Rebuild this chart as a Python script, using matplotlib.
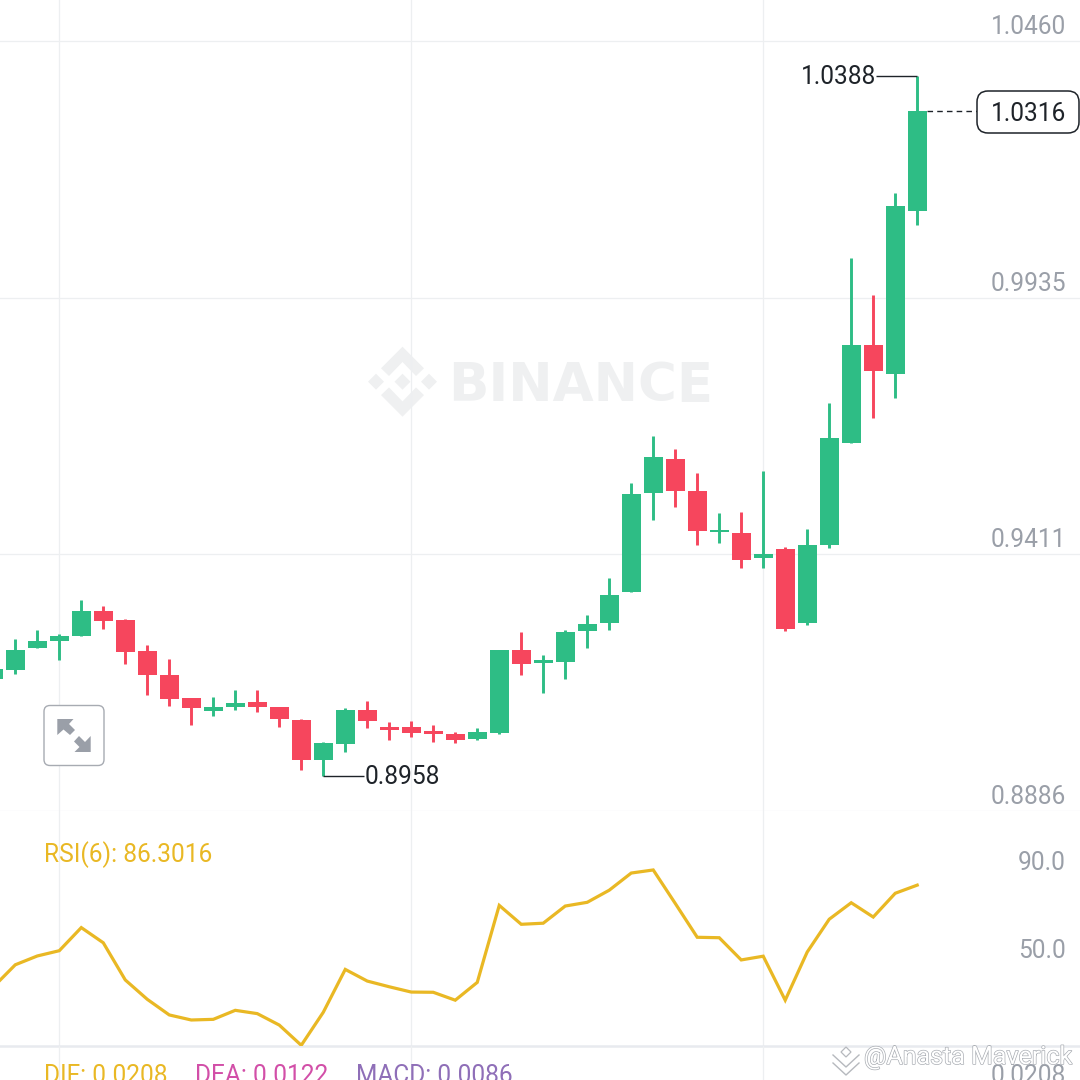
import numpy as np
import matplotlib
matplotlib.use("Agg")
import matplotlib.pyplot as plt
from matplotlib.patches import Polygon, FancyBboxPatch
from matplotlib.transforms import ScaledTranslation
import matplotlib.patheffects as pe

open_ = [0.9156,0.9174,0.9219,0.9234,0.9244,0.9295,0.9276,0.9213,0.9165,0.9116,0.9091,0.9098,0.9109,0.9099,0.9072,
         0.8991,0.9023,0.9092,0.9058,0.9057,0.9049,0.9043,0.9033,0.9046,0.9215,0.9189,0.9191,0.9253,0.9270,0.9334,
         0.9537,0.9606,0.9540,0.9456,0.9454,0.9403,0.9422,0.9270,0.9430,0.9639,0.9838,0.9780,1.0113]
high = [0.9187,0.9238,0.9257,0.9248,0.9317,0.9305,0.9279,0.9225,0.9197,0.9116,0.9120,0.9133,0.9134,0.9099,0.9074,
        0.9027,0.9097,0.9110,0.9067,0.9069,0.9061,0.9048,0.9056,0.9216,0.9251,0.9205,0.9255,0.9287,0.9362,0.9556,
        0.9653,0.9626,0.9576,0.9496,0.9497,0.9581,0.9425,0.9463,0.9719,1.0016,0.9941,1.0149,1.0388]
low = [0.9150,0.9166,0.9219,0.9195,0.9243,0.9259,0.9187,0.9124,0.9100,0.9061,0.9081,0.9093,0.9088,0.9057,0.8970,
       0.8958,0.9006,0.9055,0.9031,0.9038,0.9028,0.9026,0.9032,0.9044,0.9165,0.9127,0.9155,0.9220,0.9256,0.9334,
       0.9480,0.9508,0.9430,0.9433,0.9382,0.9382,0.9254,0.9267,0.9423,0.9639,0.9689,0.9731,1.0084]
close = [0.9177,0.9216,0.9233,0.9243,0.9295,0.9275,0.9211,0.9164,0.9115,0.9097,0.9098,0.9107,0.9099,0.9074,0.8990,
         0.9026,0.9092,0.9069,0.9052,0.9046,0.9043,0.9032,0.9048,0.9216,0.9187,0.9195,0.9251,0.9268,0.9328,0.9534,
         0.9610,0.9540,0.9458,0.9461,0.9400,0.9411,0.9259,0.9429,0.9648,0.9838,0.9785,1.0123,1.0316]
rsi = [40.0,50.1,54.1,56.5,67.0,60.1,43.2,34.4,27.3,25.0,25.3,29.4,27.9,22.7,13.5,28.5,48.0,42.7,40.1,37.7,37.6,34.0,
       42.1,77.1,68.5,69.0,76.8,78.5,84.0,91.8,93.2,78.0,62.6,62.4,52.3,54.0,34.0,55.9,70.8,78.3,71.8,82.6,86.3016]
price_ticks = [1.0460, 0.9935, 0.9411, 0.8886]
price_labels = ["1.0460", "0.9935", "0.9411", "0.8886"]
rsi_ticks = [90.0, 50.0]
rsi_labels = ["90.0", "50.0"]
x_grid = [3, 19, 35]
last_price = 1.0316
high_idx, low_idx = 42, 15

GREEN, RED = "#2EBD85", "#F6465D"
YELLOW, GRID, GRAY, DARK = "#E9B824", "#EDEFF1", "#9A9FA8", "#1E2329"
plt.rcParams["font.family"] = ["Roboto", "DejaVu Sans"]
FS = 17.65
W = H = 1080

fig = plt.figure(figsize=(10.8, 10.8), dpi=100, facecolor="white")

def panel(top, bottom):
    return fig.add_axes([0, 1 - bottom / H, 1, (bottom - top) / H], facecolor="none")

# background layer for the watermark, in pixel coordinates
bg = fig.add_axes([0, 0, 1, 1], zorder=0)
bg.set_xlim(0, W); bg.set_ylim(H, 0); bg.axis("off")
WM = "#EFF0F1"
for cx in (376, 402.5, 429):
    r = 8
    bg.add_patch(Polygon([(cx, 381.7 - r), (cx + r, 381.7), (cx, 381.7 + r), (cx - r, 381.7)], fc=WM, ec="none"))
chev = [(402.5, 346.7), (424, 368.3), (416, 376), (402.5, 362), (389, 376), (381, 368.3)]
bg.add_patch(Polygon(chev, fc=WM, ec="none"))
bg.add_patch(Polygon([(a, 763.4 - b) for a, b in chev], fc=WM, ec="none"))
bg.text(448, 381, "BINANCE", fontsize=38.2, fontweight="bold", color=WM, va="center_baseline", ha="left",
        family="DejaVu Sans")

x = np.arange(len(close))
xlim = (0.305, 49.40)

# price panel
ax = panel(0, 811)
ax.set_zorder(1)
ax.set_xlim(*xlim)
ax.set_ylim(0.8886, 1.0460 + 41 * 0.00020442)
colors = [GREEN if c >= o else RED for o, c in zip(open_, close)]
ax.vlines(x, low, high, colors=colors, lw=2.1, capstyle="butt", zorder=3)
bot = np.minimum(open_, close)
ax.bar(x, np.abs(np.array(close) - np.array(open_)), bottom=bot, width=0.864, color=colors, zorder=4)

# RSI panel
rx = panel(811, 1046)
rx.set_zorder(1)
rx.set_xlim(*xlim)
rx.set_ylim(90 - (1046 - 877) / 2.2, 90 + (877 - 811) / 2.2)
rx.plot(x, rsi, color=YELLOW, lw=2.3, solid_joinstyle="miter", zorder=3)

# MACD strip
mx = panel(1046, 1080)
mx.set_zorder(1)
mx.set_xlim(*xlim)
mx.set_yticks([])

lift = ScaledTranslation(0, 2 / 100, fig.dpi_scale_trans)
for a, ticks, labels in ((ax, price_ticks, price_labels), (rx, rsi_ticks, rsi_labels)):
    a.yaxis.tick_right()
    a.set_yticks(ticks, labels)
    a.tick_params(axis="y", length=0, pad=-10.1, labelcolor=GRAY, labelsize=FS)
    for t in a.get_yticklabels():
        t.set_ha("right")
        t.set_va("bottom")
        t.set_transform(t.get_transform() + lift)
for a in (ax, rx, mx):
    a.set_xticks(x_grid)
    a.tick_params(axis="x", length=0, labelbottom=False)
    a.grid(axis="x", color=GRID, lw=0.9, zorder=0)
    a.set_axisbelow(True)
    for s in a.spines.values():
        s.set_visible(False)
ax.grid(axis="y", color=GRID, lw=0.9, zorder=0)
rx.spines["bottom"].set_visible(True)
rx.spines["bottom"].set_color("#E8EAEF")
rx.spines["bottom"].set_linewidth(1.8)

# overlay in pixel coordinates
ov = fig.add_axes([0, 0, 1, 1], zorder=5, facecolor="none")
ov.set_xlim(0, W); ov.set_ylim(H, 0); ov.axis("off")

def py(v):
    return ax.transData.transform((0, v))[1]
to_px = lambda v: H - py(v)
hx = ax.transData.transform((high_idx, 0))[0]
lx = ax.transData.transform((low_idx, 0))[0]

# extreme labels
ov.plot([876, hx], [to_px(high[high_idx])] * 2, color=DARK, lw=1.0, solid_capstyle="butt")
ov.text(876, to_px(high[high_idx]) + 1, f"{high[high_idx]:.4f}", fontsize=FS, color=DARK, ha="right", va="center")
ov.plot([lx, 364], [to_px(low[low_idx])] * 2, color=DARK, lw=1.0, solid_capstyle="butt")
ov.text(365, to_px(low[low_idx]) + 1, f"{low[low_idx]:.4f}", fontsize=FS, color=DARK, ha="left", va="center")

# last price tag
ly = to_px(last_price)
ov.plot([927, 977], [ly, ly], color=DARK, lw=1.0, dashes=(4, 3))
ov.add_patch(FancyBboxPatch((977 + 10, 91 + 10), 92 - 10, 42 - 20, boxstyle="round,pad=10,rounding_size=11",
                            fc="white", ec=DARK, lw=1.1, zorder=6))
ov.text(1066, 114, f"{last_price:.4f}", fontsize=FS, color=DARK, ha="right", va="center", zorder=7)

# expand button
ov.add_patch(FancyBboxPatch((44 + 6, 705.5 + 6), 60 - 12, 60 - 12, boxstyle="round,pad=6,rounding_size=6",
                            fc="white", ec="#A7ABB2", lw=1.0, zorder=6))
ICON = "#9A9FA8"
ov.add_patch(Polygon([(57.3, 719), (73.5, 719), (69, 724), (75, 730), (70, 735), (63.5, 729.5), (57.3, 735)],
                     fc=ICON, ec="none", zorder=7))
ov.add_patch(Polygon([(90.7, 752), (74.5, 752), (79.5, 747), (74, 741.5), (79, 736), (85, 742), (90.7, 736)],
                     fc=ICON, ec="none", zorder=7))

# indicator headers
ov.text(44, 855, "RSI(6): 86.3016", fontsize=FS, color=YELLOW, ha="left", va="center")
ov.text(44, 1076, "DIF: 0.0208", fontsize=FS, color=YELLOW, ha="left", va="center")
ov.text(195, 1076, "DEA: 0.0122", fontsize=FS, color="#D24FA8", ha="left", va="center")
ov.text(356, 1076, "MACD: 0.0086", fontsize=FS, color="#8F6FB8", ha="left", va="center")
ov.text(1066, 1076, "0.0208", fontsize=FS, color=GRAY, ha="right", va="center")

# creator watermark
ov.text(864, 1057, "@Anasta Maverick", fontsize=18.0, color="white", ha="left", va="center", zorder=8,
        path_effects=[pe.withStroke(linewidth=1.0, foreground="#A9ADB3")])
wk = "#B6B9BE"
for cy in (1056, 1064):
    ov.plot([833, 846, 859], [cy - 1, cy + 11, cy - 1], color=wk, lw=1.0, zorder=8)
ov.add_patch(Polygon([(846, 1047), (851, 1052), (846, 1057), (841, 1052)], fc="none", ec=wk, lw=0.9, zorder=8))

fig.savefig("out.png", dpi=100)
